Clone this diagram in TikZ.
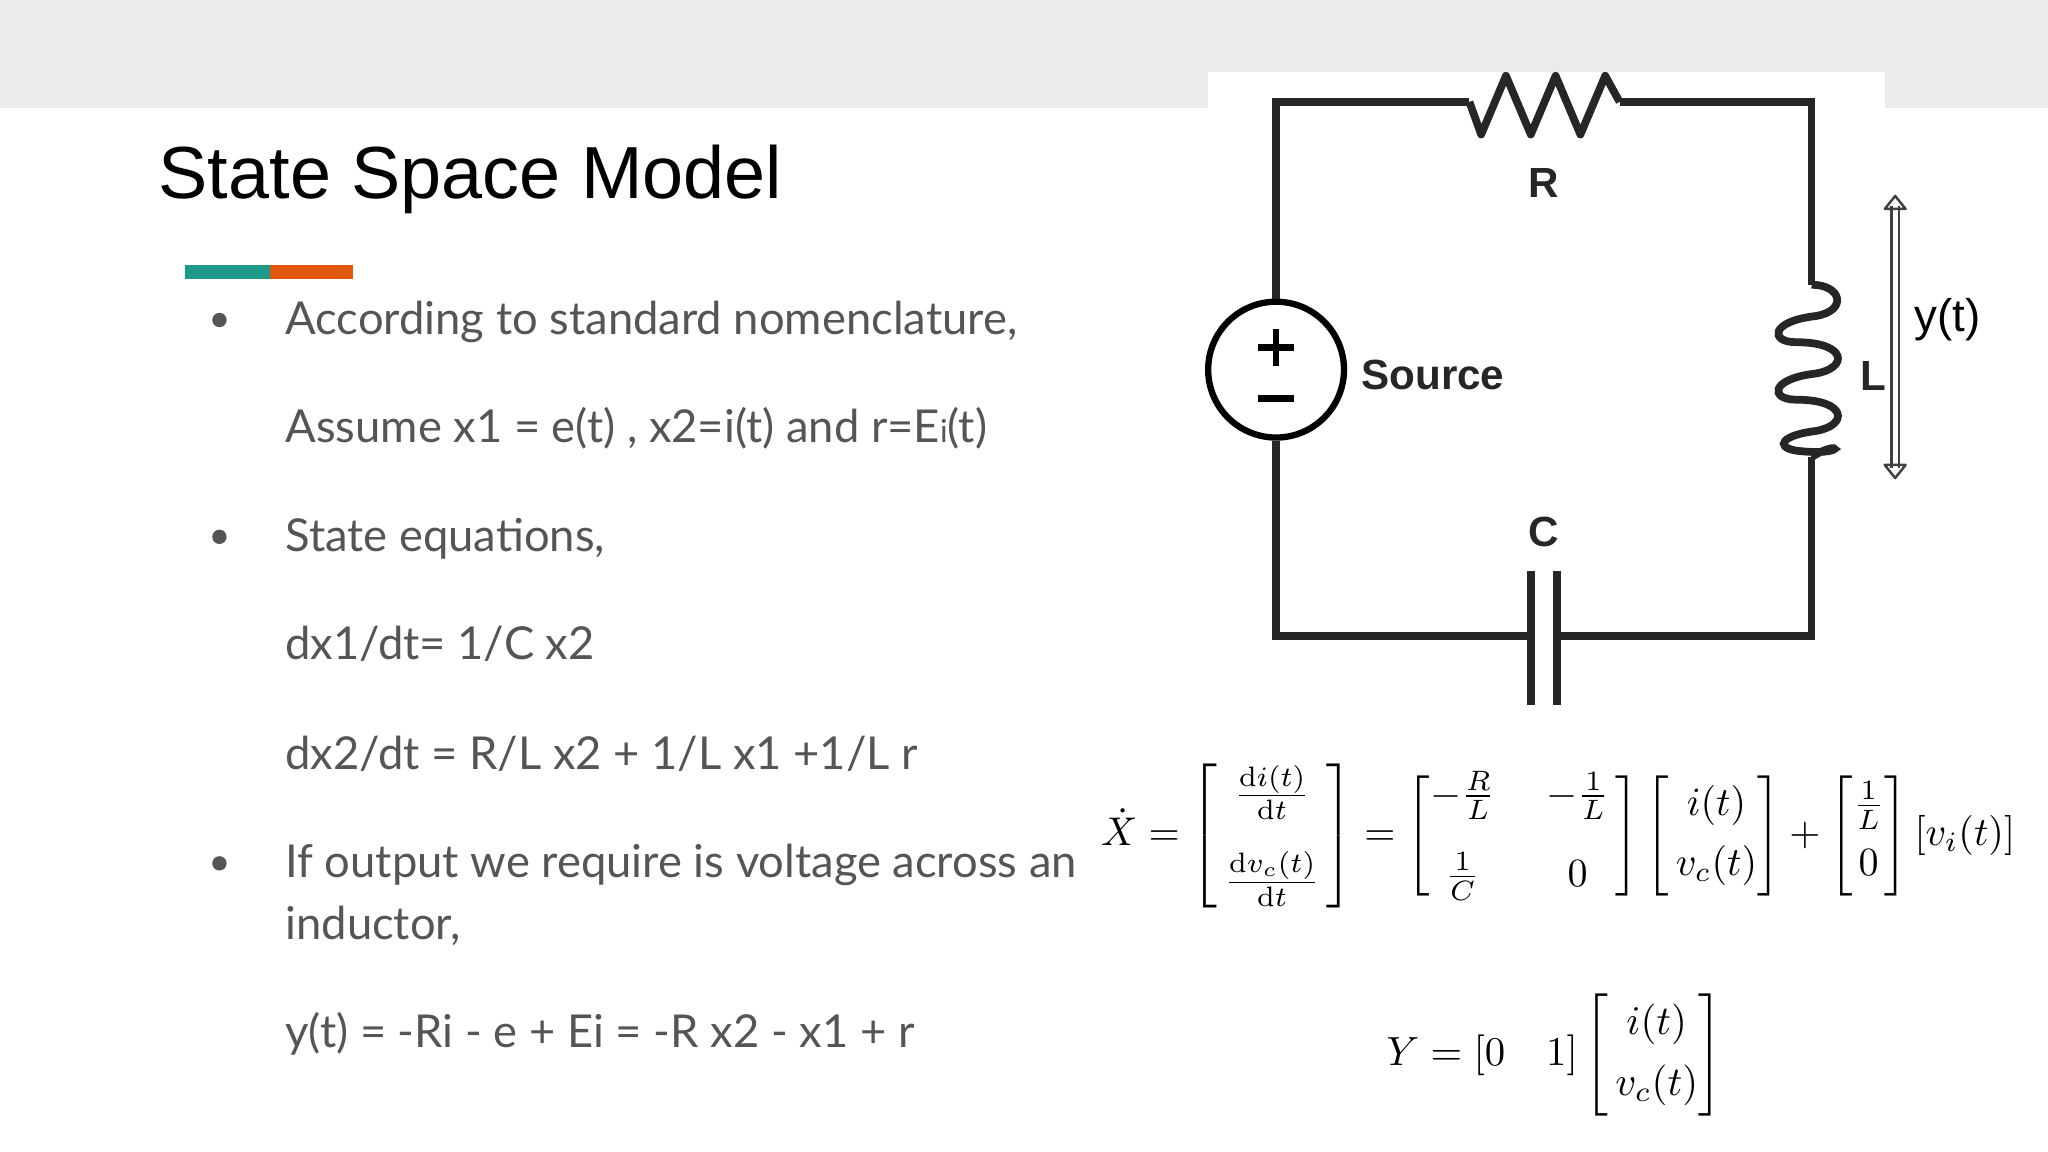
\documentclass[tikz,border=0pt]{standalone}
\usepackage{amsmath}
\usepackage[no-math]{fontspec}
\setmainfont{Lato}
\newfontfamily\titlefont{Liberation Sans}
\newfontfamily\labfont{Liberation Sans}
\usetikzlibrary{arrows.meta}
\definecolor{band}{HTML}{E9ECEB}
\definecolor{teal}{HTML}{1F9A8A}
\definecolor{orng}{HTML}{E2580F}
\definecolor{txt}{HTML}{555555}
\begin{document}
\begin{tikzpicture}[x=0.013061cm,y=-0.013061cm,
  body/.style={anchor=base west,font=\fontsize{12.9pt}{16pt}\selectfont,text=txt,inner sep=0},
  lab/.style={font=\labfont\bfseries\fontsize{12pt}{14pt}\selectfont,text=black!85},
  wire/.style={line width=2.2pt,black!85}]
\useasboundingbox (0,0) rectangle (1568,882);
\fill[band] (0,0) rectangle (1568,83);
\fill[white] (925,55) rectangle (1443,545);
\node[anchor=base west,inner sep=0,font=\titlefont\fontsize{21pt}{25pt}\selectfont] (title) at (121,152) {State Space Model};
\draw[teal,line width=4pt] (142,208) -- (207,208);
\draw[orng,line width=4pt] (207,208) -- (270,208);
\foreach \yy in {245,411,661} \fill[txt] (168,\yy) circle (5.5);
\node[body] (t1) at (218,256) {According to standard nomenclature,};
\node[body] (t2) at (218,339) {Assume x1 = e(t) , x2=i(t) and r=E{\fontsize{9pt}{10pt}\selectfont i}(t)};
\node[body] (t3) at (218,422) {State equations,};
\node[body] (t4) at (218,505) {dx1/dt= 1/C x2};
\node[body] (t5) at (218,589) {dx2/dt = R/L x2 + 1/L x1 +1/L r};
\node[body] (t6) at (218,672) {If output we require is voltage across an};
\node[body] (t7) at (218,719) {inductor,};
\node[body] (t8) at (218,802) {y(t) = -Ri - e + Ei = -R x2 - x1 + r};
% circuit
\coordinate (tl) at (977,78); \coordinate (r1) at (1125,78); \coordinate (r2) at (1240,78);
\coordinate (tr) at (1387,78); \coordinate (l1) at (1387,218); \coordinate (l2) at (1387,350);
\coordinate (br) at (1387,487); \coordinate (c2) at (1192,487); \coordinate (c1) at (1172,487);
\coordinate (bl) at (977,487);
\node[circle,draw,line width=1.8pt,minimum size=104*0.013061cm,inner sep=0] (src) at (977,283) {};
\draw[wire] (src.north) -- (tl) -- (r1);
\draw[wire,line join=round] (r1) -- (1134,103) -- (1153,58) -- (1172,103) -- (1191,58) -- (1210,103) -- (1229,58) -- (r2);
\draw[wire] (r2) -- (tr) -- (l1);
\draw[wire] (l1) .. controls (1410,218) and (1415,238) .. (1390,242)
  .. controls (1355,246) and (1355,262) .. (1375,262)
  .. controls (1415,262) and (1415,282) .. (1390,286)
  .. controls (1355,290) and (1355,306) .. (1375,306)
  .. controls (1415,306) and (1415,326) .. (1390,330)
  .. controls (1365,333) and (1358,342) .. (1375,345)
  .. controls (1415,350) and (1410,335) .. (1387,350);
\draw[wire] (l2) -- (br) -- (c2);
\draw[wire] (c1) -- (bl) -- (src.south);
\draw[wire] (1172,437) -- (1172,540); \draw[wire] (1192,437) -- (1192,540);
\draw[line width=1.8pt] (963,266) -- (991,266) (977,252) -- (977,280);
\draw[line width=1.8pt] (963,305) -- (991,305);
\node[lab] (lr) at (1182,140) {R};
\node[lab] (lc) at (1182,407) {C};
\node[lab] (ll) at (1434,288) {L};
\node[lab] (ls) at (1097,287) {Source};
\coordinate (ya) at (1451,150); \coordinate (yb) at (1451,366);
\draw[line width=0.7pt,black!75] (1448,158) -- (1448,358) (1454,158) -- (1454,358);
\draw[line width=0.7pt,black!75,line join=round] (1443,160) -- (ya) -- (1459,160) -- cycle;
\draw[line width=0.7pt,black!75,line join=round] (1443,356) -- (yb) -- (1459,356) -- cycle;
\node[font=\labfont\fontsize{13pt}{15pt}\selectfont] (yt) at (1491,245) {y(t)};
% equations
\node[inner sep=0,scale=1.14] (eq1) at (1193,640) {$\displaystyle \dot X=\left[\,\begin{matrix}\frac{\mathrm{d}i(t)}{\mathrm{d}t}\\[8pt] \frac{\mathrm{d}v_c(t)}{\mathrm{d}t}\end{matrix}\,\right]=\left[\begin{matrix}-\frac{R}{L} & \;-\frac{1}{L}\\[8pt] \frac{1}{C} & \;0\end{matrix}\,\right]\left[\,\begin{matrix}i(t)\\[3pt] v_c(t)\end{matrix}\right]+\left[\begin{matrix}\frac{1}{L}\\[3pt] 0\end{matrix}\right][v_i(t)]$};
\node[inner sep=0,scale=1.16] (eq2) at (1190,808) {$\displaystyle Y=[0\quad 1]\left[\,\begin{matrix}i(t)\\[3pt] v_c(t)\end{matrix}\right]$};
\end{tikzpicture}
\end{document}
